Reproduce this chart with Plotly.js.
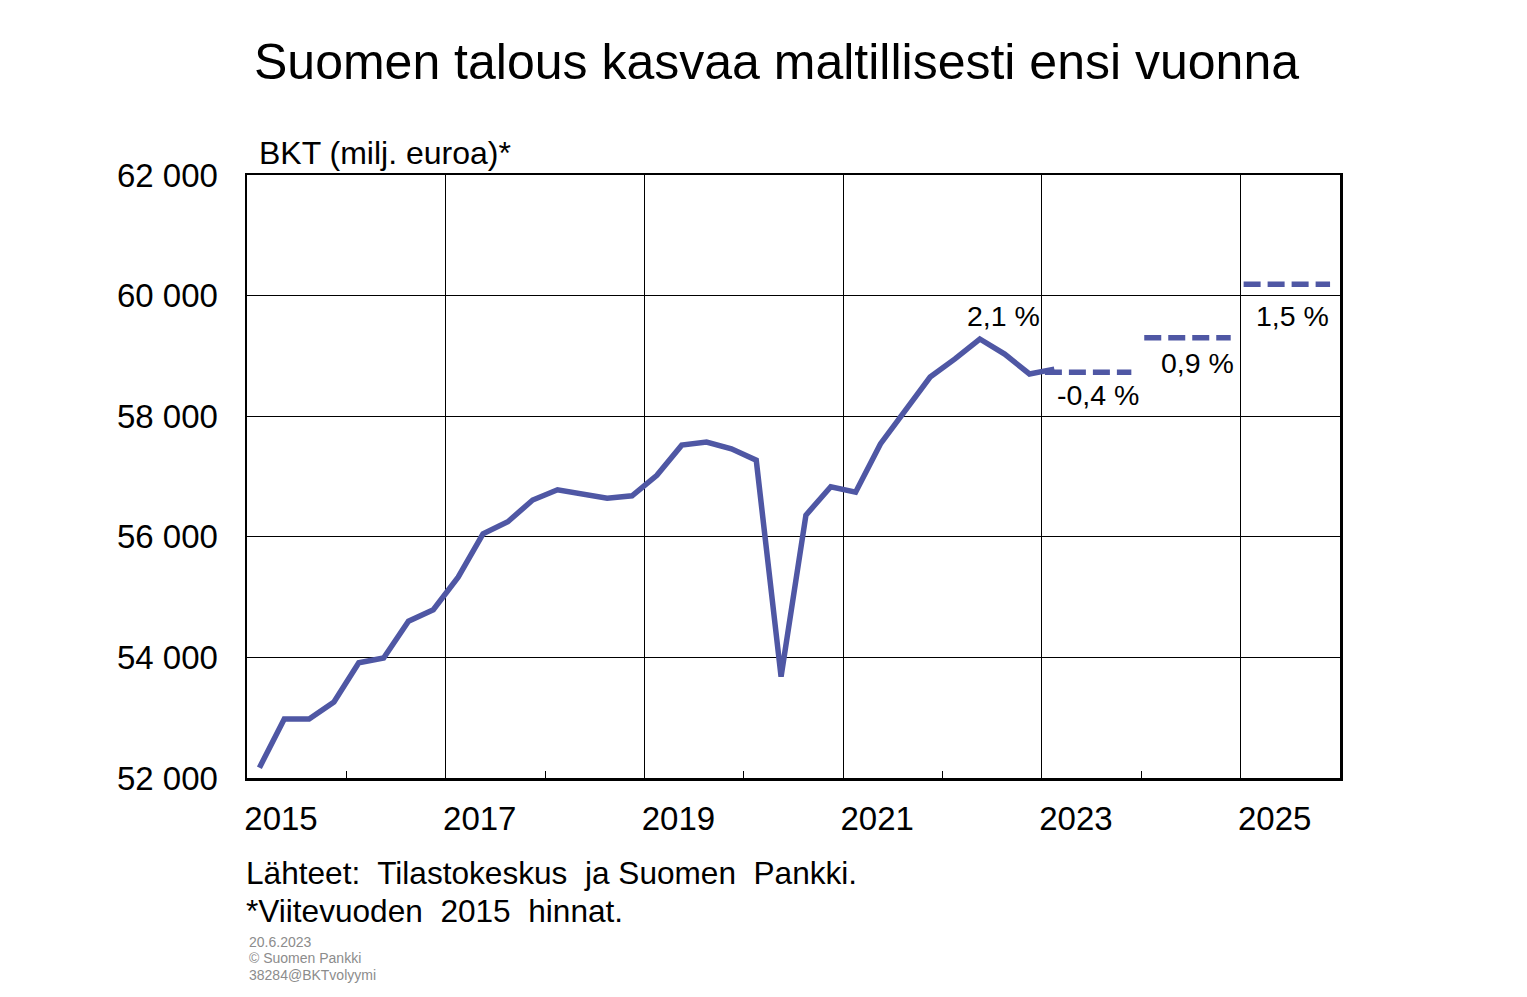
<!DOCTYPE html>
<html>
<head>
<meta charset="utf-8">
<script src="https://cdn.plot.ly/plotly-3.0.1.min.js"></script>
<style>
html,body{margin:0;padding:0;background:#fff;}
#chart{width:1527px;height:997px;}
</style>
</head>
<body>
<div id="chart"></div>
<script>
// Quarterly GDP volume, million euros (reference year 2015 prices)
const quarterYears = [2015,2015,2015,2015,2016,2016,2016,2016,2017,2017,2017,2017,2018,2018,2018,2018,2019,2019,2019,2019,2020,2020,2020,2020,2021,2021,2021,2021,2022,2022,2022,2022,2023];
const quarterNums  = [1,2,3,4,1,2,3,4,1,2,3,4,1,2,3,4,1,2,3,4,1,2,3,4,1,2,3,4,1,2,3,4,1];
const gdpValues = [52170,52980,52980,53260,53910,53990,54600,54790,55330,56050,56250,56610,56780,56710,56640,56680,57020,57520,57570,57460,57270,53680,56360,56830,56740,57540,58090,58650,58950,59280,59030,58700,58780];

// Forecast annual levels (quarterly average) and growth labels
const forecastYears = [2023, 2024, 2025];
const forecastValues = [58730, 59300, 60190];
const forecastLabels = ["-0,4 %", "0,9 %", "1,5 %"];
const lastActualLabel = "2,1 %";

const yTickVals = [52000, 54000, 56000, 58000, 60000, 62000];
const xTickYears = [2015, 2017, 2019, 2021, 2023, 2025];
const xMinorYears = [2016, 2018, 2020, 2022, 2024];

const lineColor = 'rgb(79,87,164)';
const FONT = 'Liberation Sans, Arial, sans-serif';
const NARROW = 'Liberation Sans Narrow, Arial Narrow, ' + FONT;

const xq = quarterYears.map((y, i) => y + (quarterNums[i] - 0.5) / 4);

const fx = [], fy = [];
forecastYears.forEach((y, i) => {
  fx.push(y + 0.03, y + 0.9, null);
  fy.push(forecastValues[i], forecastValues[i], null);
});

const traces = [
  {x: xq, y: gdpValues, type: 'scatter', mode: 'lines',
   line: {color: lineColor, width: 5.5}, hoverinfo: 'skip'},
  {x: fx, y: fy, type: 'scatter', mode: 'lines', connectgaps: false,
   line: {color: lineColor, width: 5.5, dash: '17px,7px'}, hoverinfo: 'skip'}
];

const peakIdx = gdpValues.indexOf(Math.max(...gdpValues));
const annotations = [
  {xref: 'paper', yref: 'paper', x: 0.484, y: 1.187, text: 'Suomen talous kasvaa maltillisesti ensi vuonna',
   showarrow: false, xanchor: 'center', yanchor: 'middle', font: {family: FONT, size: 50, color: '#000'}},
  {xref: 'paper', yref: 'paper', x: 0.009, y: 1.037, text: 'BKT (milj. euroa)*',
   showarrow: false, xanchor: 'left', yanchor: 'middle', font: {family: FONT, size: 32, color: '#000'}},
  {xref: 'x', yref: 'y', x: xq[peakIdx] + 0.24, y: gdpValues[peakIdx], yshift: 23, text: lastActualLabel,
   showarrow: false, xanchor: 'center', yanchor: 'middle', font: {family: FONT, size: 28.5, color: '#000'}},
  {xref: 'paper', yref: 'paper', x: -0.003, y: -0.1575, text: 'Lähteet:  Tilastokeskus  ja Suomen  Pankki.',
   showarrow: false, xanchor: 'left', yanchor: 'middle', font: {family: FONT, size: 31.6, color: '#000'}},
  {xref: 'paper', yref: 'paper', x: -0.003, y: -0.2206, text: '*Viitevuoden  2015  hinnat.',
   showarrow: false, xanchor: 'left', yanchor: 'middle', font: {family: FONT, size: 31.6, color: '#000'}},
  {xref: 'paper', yref: 'paper', x: 0.0, y: -0.272, text: '20.6.2023',
   showarrow: false, xanchor: 'left', yanchor: 'middle', font: {family: NARROW, size: 14, color: '#8c8c8c'}},
  {xref: 'paper', yref: 'paper', x: 0.0, y: -0.2985, text: '© Suomen Pankki',
   showarrow: false, xanchor: 'left', yanchor: 'middle', font: {family: NARROW, size: 14, color: '#8c8c8c'}},
  {xref: 'paper', yref: 'paper', x: 0.0, y: -0.3267, text: '38284@BKTvolyymi',
   showarrow: false, xanchor: 'left', yanchor: 'middle', font: {family: NARROW, size: 14, color: '#8c8c8c'}}
];
const labelShifts = [-23, -25, -32];
const labelOffsets = [0.56, 0.57, 0.52];
forecastYears.forEach((y, i) => {
  annotations.push({xref: 'x', yref: 'y', x: y + labelOffsets[i], y: forecastValues[i], yshift: labelShifts[i],
    text: forecastLabels[i], showarrow: false, xanchor: 'center', yanchor: 'middle',
    font: {family: FONT, size: 28.5, color: '#000'}});
});

const layout = {
  width: 1527, height: 997,
  margin: {l: 247, r: 187, t: 175, b: 219, pad: 0},
  paper_bgcolor: '#fff', plot_bgcolor: '#fff',
  separators: ', ',
  showlegend: false,
  font: {family: FONT, color: '#000'},
  xaxis: {
    range: [2015, 2026], fixedrange: true,
    tickmode: 'array', tickvals: xTickYears, ticktext: xTickYears.map(String),
    ticks: '', ticklabelshift: 34, ticklabelstandoff: 10,
    tickfont: {family: FONT, size: 33, color: '#000'},
    showgrid: true, gridcolor: '#000', gridwidth: 1,
    showline: true, linecolor: '#000', linewidth: 2.5, mirror: true,
    zeroline: false,
    minor: {tickmode: 'array', tickvals: xMinorYears, ticks: 'inside', ticklen: 7, tickwidth: 1, tickcolor: '#000', showgrid: false}
  },
  yaxis: {
    range: [52000, 62000], fixedrange: true,
    tickmode: 'array', tickvals: yTickVals, tickformat: ',d',
    ticks: '', ticklabelstandoff: 20,
    tickfont: {family: FONT, size: 33, color: '#000'},
    showgrid: true, gridcolor: '#000', gridwidth: 1,
    showline: true, linecolor: '#000', linewidth: 2.5, mirror: true,
    zeroline: false
  },
  annotations: annotations
};

Plotly.newPlot('chart', traces, layout, {staticPlot: true, displayModeBar: false});
</script>
</body>
</html>
